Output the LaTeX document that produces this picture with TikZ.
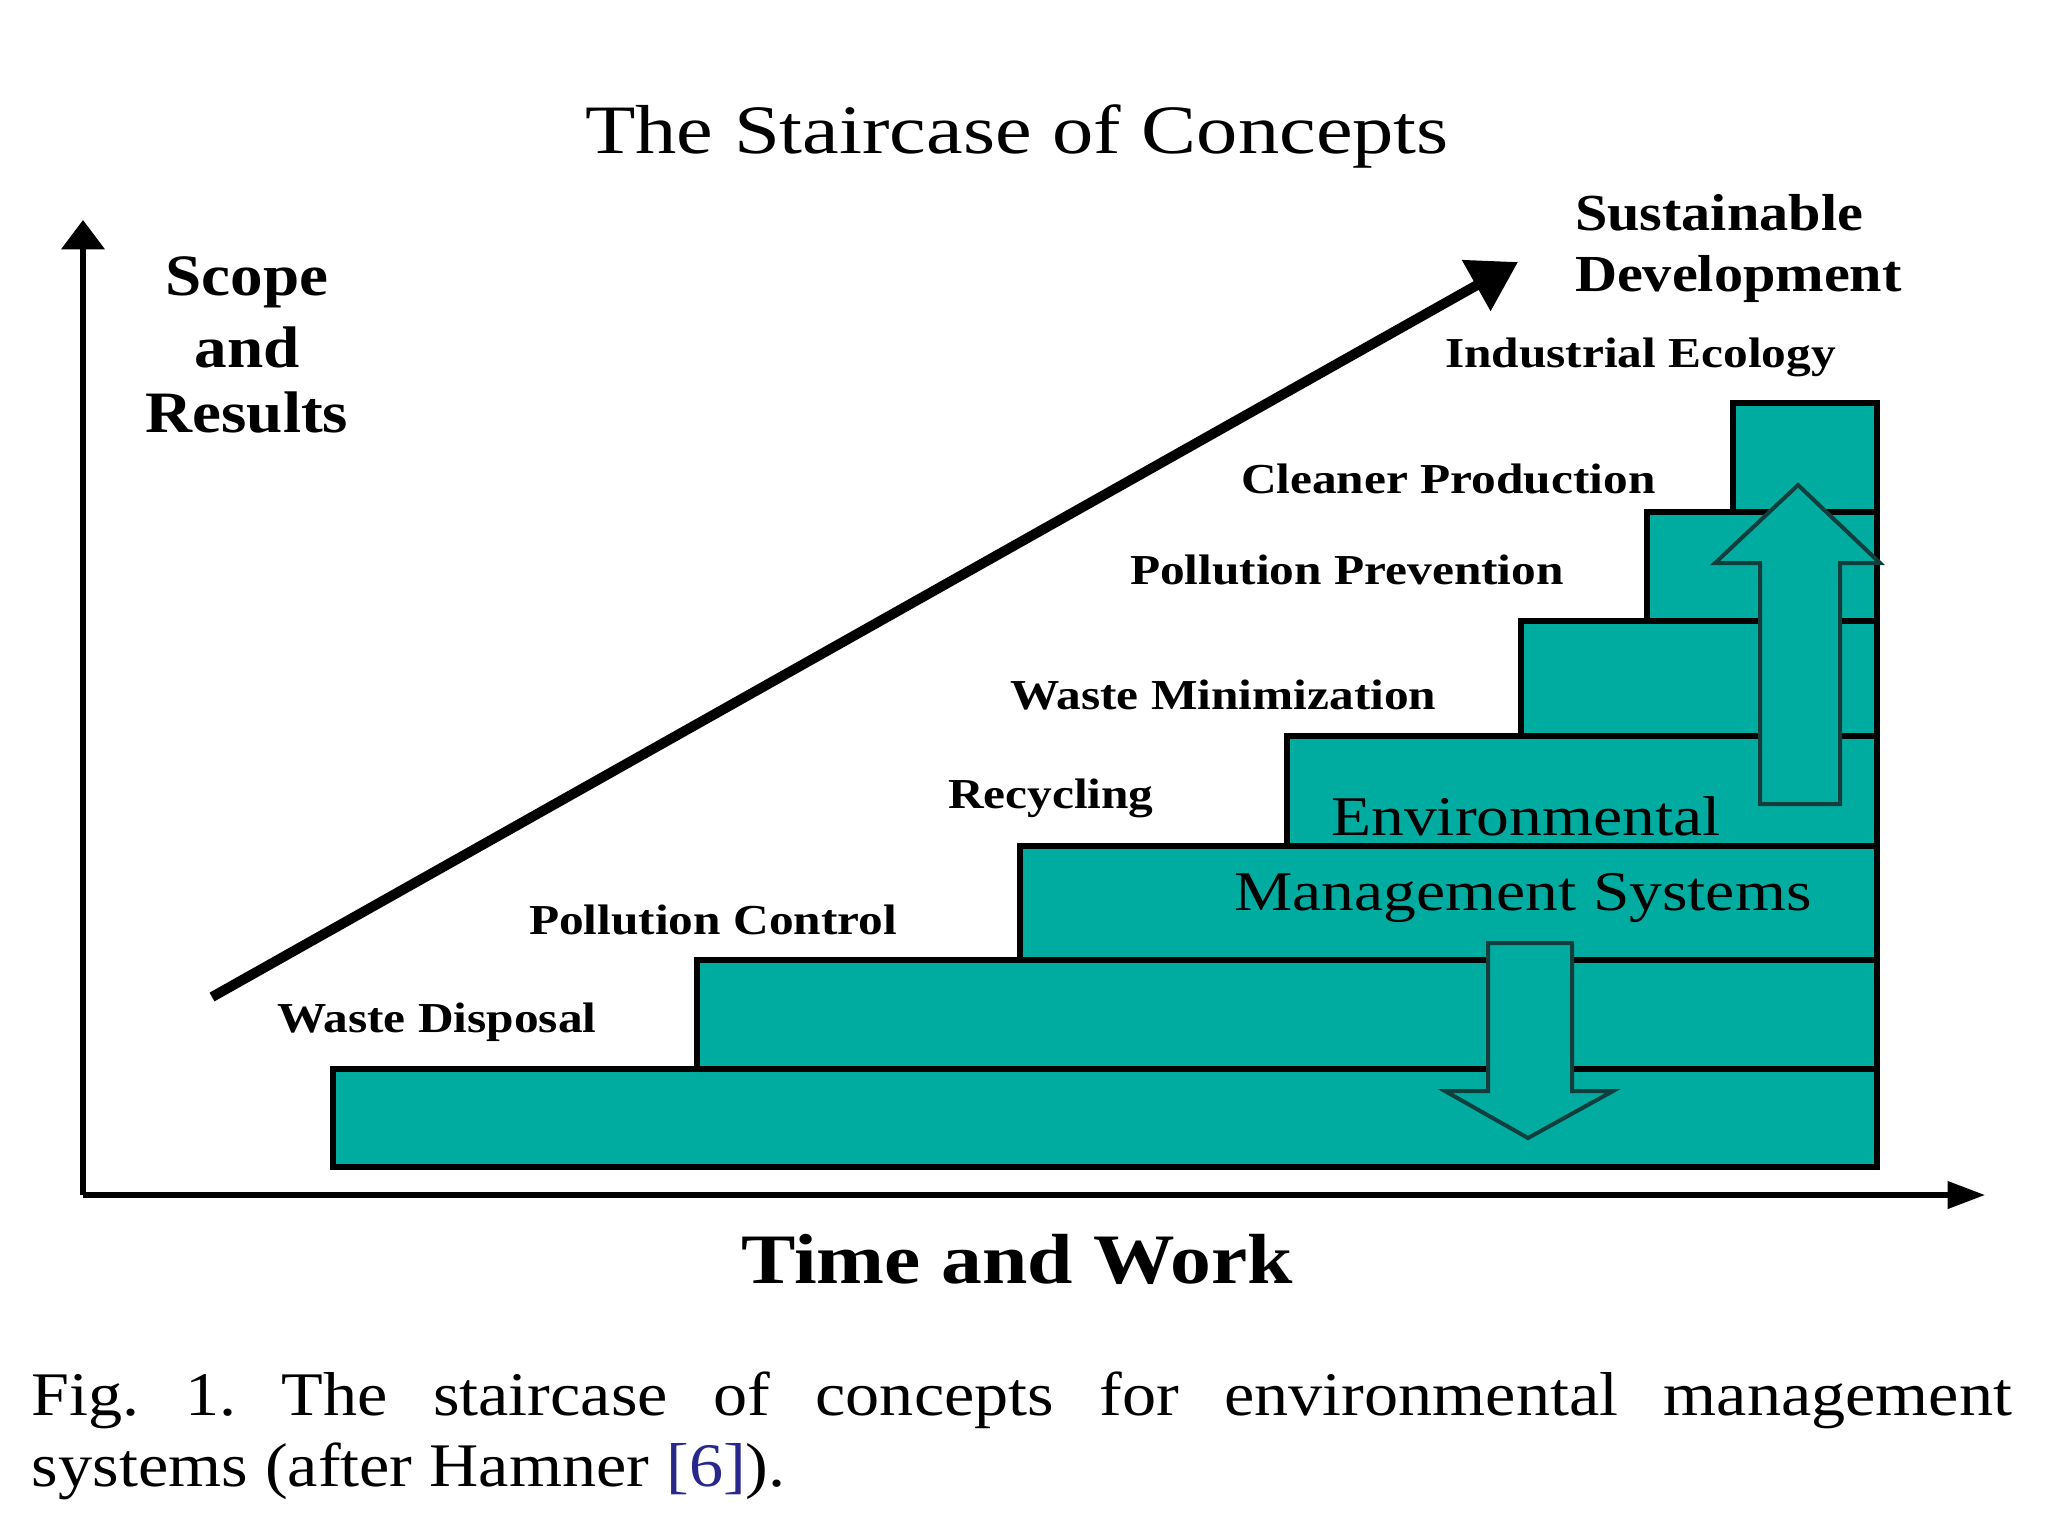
\documentclass[tikz,border=0pt]{standalone}
\usepackage{fontspec}
\setmainfont{Liberation Serif}
\usepackage{graphicx}
\usetikzlibrary{arrows.meta}
\definecolor{teal1}{RGB}{0,171,160}
\definecolor{arrowedge}{RGB}{16,62,60}
\definecolor{citeblue}{RGB}{40,40,140}
\newcommand\hsx[2]{\scalebox{#1}[1]{#2}}
\frenchspacing
\tikzset{
  txt/.style={inner sep=0pt, outer sep=0pt},
  steplabel/.style={txt, anchor=base west, font=\fontsize{16}{18}\selectfont\bfseries},
  stepbox/.style={fill=teal1, draw=black, line width=2.2pt},
  bigarrow/.style={fill=teal1, draw=arrowedge, line width=1.5pt, line join=miter},
  axis/.style={draw=black, line width=1.9pt},
}
\begin{document}
\begin{tikzpicture}[x=0.375pt,y=-0.375pt]
\useasboundingbox (0,0) rectangle (2048,1536);
\fill[white] (0,0) rectangle (2048,1536);

% title
\node[txt, anchor=base, font=\fontsize{26}{30}\selectfont] (title) at (1017,153) {\hsx{1.19}{The Staircase of Concepts}};

% axes
\coordinate (O) at (83,1195);
\coordinate (ytip) at (83,220);
\coordinate (xtip) at (1985,1195);
\draw[axis, -{Triangle[length=11pt,width=16pt]}] (O) -- (ytip);
\draw[axis, -{Triangle[length=14pt,width=10pt]}] (O) -- (xtip);

% staircase
\draw[stepbox] (333,1069) rectangle (1877,1167);
\draw[stepbox] (697,960) rectangle (1877,1069);
\draw[stepbox] (1020,846) rectangle (1877,960);
\draw[stepbox] (1287,736) rectangle (1877,846);
\draw[stepbox] (1521,621) rectangle (1877,736);
\draw[stepbox] (1647,512) rectangle (1877,621);
\draw[stepbox] (1733,403) rectangle (1877,512);

% up and down arrows
\draw[bigarrow] (1760,804) -- (1760,563) -- (1715,563) -- (1798,485) -- (1880,563) -- (1840,563) -- (1840,804) -- cycle;
\draw[bigarrow] (1488,943) -- (1572,943) -- (1572,1091) -- (1613,1091) -- (1528,1138) -- (1445,1091) -- (1488,1091) -- cycle;

% EMS text
\node[txt, anchor=base, font=\fontsize{21}{24}\selectfont] (env) at (1526,835) {\hsx{1.17}{Environmental}};
\node[txt, anchor=base, font=\fontsize{21}{24}\selectfont] (ems) at (1523,910) {\hsx{1.17}{Management Systems}};

% diagonal arrow
\coordinate (dstart) at (212,997);
\coordinate (dend) at (1518,262);
\draw[line width=3.75pt, -{Triangle[length=18pt,width=21pt]}] (dstart) -- (dend);

% y-axis label
\node[txt, anchor=base, font=\fontsize{22}{26}\selectfont\bfseries] (scope) at (247,295) {\hsx{1.11}{Scope}};
\node[txt, anchor=base, font=\fontsize{22}{26}\selectfont\bfseries] (and) at (247,367) {\hsx{1.11}{and}};
\node[txt, anchor=base, font=\fontsize{22}{26}\selectfont\bfseries] (results) at (247,432) {\hsx{1.11}{Results}};

% sustainable development
\node[txt, anchor=base west, font=\fontsize{19.5}{22}\selectfont\bfseries] (sus) at (1575,230) {\hsx{1.12}{Sustainable}};
\node[txt, anchor=base west, font=\fontsize{19.5}{22}\selectfont\bfseries] (dev) at (1575,291) {\hsx{1.12}{Development}};

% step labels
\node[steplabel] (ie) at (1445,367) {\hsx{1.157}{Industrial Ecology}};
\node[steplabel] (cp) at (1241,493) {\hsx{1.157}{Cleaner Production}};
\node[steplabel] (pp) at (1130,584) {\hsx{1.157}{Pollution Prevention}};
\node[steplabel] (wm) at (1010,709) {\hsx{1.157}{Waste Minimization}};
\node[steplabel] (rc) at (948,808) {\hsx{1.157}{Recycling}};
\node[steplabel] (pc) at (529,934) {\hsx{1.157}{Pollution Control}};
\node[steplabel] (wd) at (277,1032) {\hsx{1.157}{Waste Disposal}};

% x-axis label
\node[txt, anchor=base, font=\fontsize{26.6}{30}\selectfont\bfseries] (time) at (1017,1283) {\hsx{1.15}{Time and Work}};

% caption
\node[txt, anchor=base west, font=\fontsize{23.25}{27}\selectfont] (cap1) at (32,1415) {\hsx{1.1}{\makebox[675pt][s]{Fig. 1. The staircase of concepts for environmental management}}};
\node[txt, anchor=base west, font=\fontsize{23.25}{27}\selectfont] (cap2) at (32,1486) {\hsx{1.1}{systems (after Hamner {\color{citeblue}[6]}).}};
\end{tikzpicture}
\end{document}
